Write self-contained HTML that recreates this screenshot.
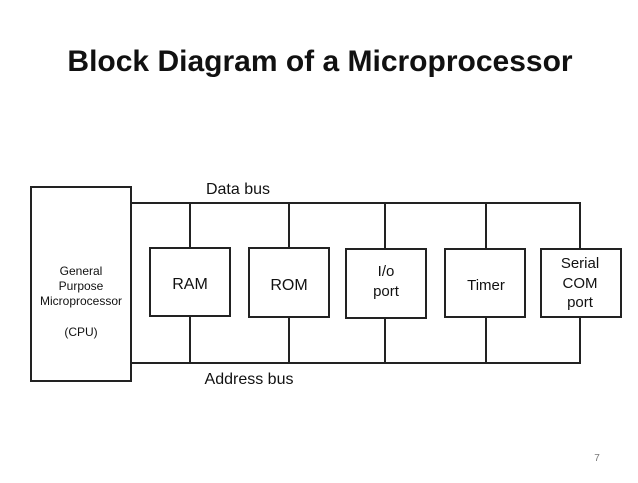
<!DOCTYPE html>
<html><head><style>
body{margin:0;background:#fff;}
</style></head><body>
<svg width="638" height="478" xmlns="http://www.w3.org/2000/svg" font-family="Liberation Sans, sans-serif">
<rect width="638" height="478" fill="#fff"/>
<text x="320" y="71" text-anchor="middle" font-size="30" font-weight="bold" fill="#111">Block Diagram of a Microprocessor</text>
<g stroke="#222" stroke-width="2" fill="none">
<rect x="31" y="187" width="100" height="194"/>
<polyline points="131,203 580,203 580,249"/>
<polyline points="131,363 580,363 580,317"/>
<line x1="190" y1="203" x2="190" y2="248"/><line x1="190" y1="316" x2="190" y2="363"/>
<line x1="289" y1="203" x2="289" y2="248"/><line x1="289" y1="317" x2="289" y2="363"/>
<line x1="385" y1="203" x2="385" y2="249"/><line x1="385" y1="318" x2="385" y2="363"/>
<line x1="486" y1="203" x2="486" y2="249"/><line x1="486" y1="317" x2="486" y2="363"/>
<rect x="150" y="248" width="80" height="68"/>
<rect x="249" y="248" width="80" height="69"/>
<rect x="346" y="249" width="80" height="69"/>
<rect x="445" y="249" width="80" height="68"/>
<rect x="541" y="249" width="80" height="68"/>
</g>
<g fill="#111" text-anchor="middle">
<text x="238" y="194" font-size="16">Data bus</text>
<text x="249" y="384" font-size="16">Address bus</text>
<text x="81" y="275" font-size="12">General</text>
<text x="81" y="290" font-size="12">Purpose</text>
<text x="81" y="305" font-size="12">Microprocessor</text>
<text x="81" y="336" font-size="12">(CPU)</text>
<text x="190" y="289" font-size="16">RAM</text>
<text x="289" y="290" font-size="16">ROM</text>
<text x="386" y="276" font-size="15">I/o</text>
<text x="386" y="296" font-size="15">port</text>
<text x="486" y="290" font-size="15">Timer</text>
<text x="580" y="268" font-size="15">Serial</text>
<text x="580" y="288" font-size="15">COM</text>
<text x="580" y="307" font-size="15">port</text>
<text x="597" y="461" font-size="10" fill="#777">7</text>
</g>
</svg>
</body></html>
